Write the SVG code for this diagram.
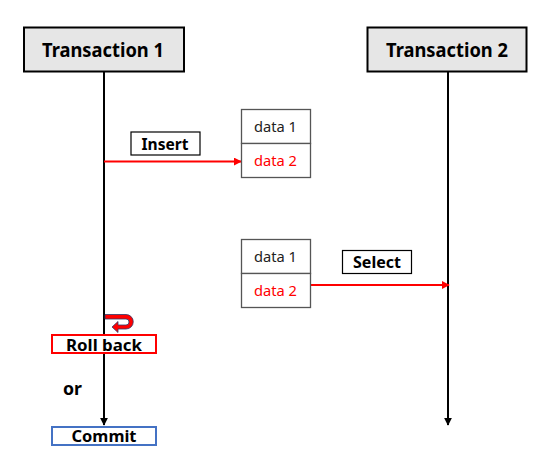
<svg xmlns="http://www.w3.org/2000/svg" width="544" height="476" viewBox="0 0 544 476">
<style>
.t{font-family:"Noto Sans","Open Sans","Liberation Sans",sans-serif}
.hdr{fill:#e6e6e6;stroke:#000;stroke-width:2}
.hdrt{font-size:19.5px;font-weight:bold;fill:#000}
.cell{fill:#fff;stroke:#555;stroke-width:1.3}
.dt{font-size:14px;fill:#222}
.dr{font-size:14px;fill:#ff0000}
.lbl{fill:#fff;stroke:#000;stroke-width:1.2}
.lt{font-size:16.5px;font-weight:bold;fill:#000}
.life{stroke:#000;stroke-width:2;fill:none}
.msg{stroke:#ff0000;stroke-width:2;fill:none}
</style>
<defs>
<marker id="ab" viewBox="0 0 10 10" refX="9" refY="5" markerWidth="4" markerHeight="4" orient="auto" markerUnits="strokeWidth"><path d="M0,0 L10,5 L0,10 Z" fill="#000"/></marker>
<marker id="ar" viewBox="0 0 10 10" refX="9" refY="5" markerWidth="4" markerHeight="4" orient="auto" markerUnits="strokeWidth"><path d="M0,0 L10,5 L0,10 Z" fill="#ff0000"/></marker>
</defs>
<rect width="544" height="476" fill="#fff"/>
<g id="connectors">
<line class="life" x1="104" y1="72" x2="104" y2="425" marker-end="url(#ab)"/>
<line class="life" x1="448" y1="72" x2="448" y2="425" marker-end="url(#ab)"/>
<line class="msg" x1="104" y1="161.5" x2="241" y2="161.5" marker-end="url(#ar)"/>
<line class="msg" x1="310" y1="285" x2="449" y2="285" marker-end="url(#ar)"/>
</g>
<g id="tx1">
<rect class="hdr" x="24" y="27.5" width="160" height="44"/>
<text class="t hdrt" x="103" y="57" text-anchor="middle" textLength="122" lengthAdjust="spacingAndGlyphs">Transaction 1</text>
</g>
<g id="tx2">
<rect class="hdr" x="367.5" y="27.5" width="159" height="44"/>
<text class="t hdrt" x="447" y="57" text-anchor="middle" textLength="122" lengthAdjust="spacingAndGlyphs">Transaction 2</text>
</g>
<g id="data-a">
<rect class="cell" x="241.5" y="109.5" width="69" height="34"/>
<rect class="cell" x="241.5" y="143.5" width="69" height="34"/>
<text class="t dt" x="275.5" y="131.5" text-anchor="middle" textLength="43" lengthAdjust="spacingAndGlyphs">data 1</text>
<text class="t dr" x="275.5" y="165.5" text-anchor="middle" textLength="43" lengthAdjust="spacingAndGlyphs">data 2</text>
</g>
<g id="data-b">
<rect class="cell" x="241.5" y="239.5" width="69" height="34"/>
<rect class="cell" x="241.5" y="273.5" width="69" height="34"/>
<text class="t dt" x="275.5" y="261.5" text-anchor="middle" textLength="43" lengthAdjust="spacingAndGlyphs">data 1</text>
<text class="t dr" x="275.5" y="295.5" text-anchor="middle" textLength="43" lengthAdjust="spacingAndGlyphs">data 2</text>
</g>
<g id="insert">
<rect class="lbl" x="131" y="132" width="69" height="23"/>
<text class="t lt" x="165" y="149.5" text-anchor="middle" textLength="47" lengthAdjust="spacingAndGlyphs">Insert</text>
</g>
<g id="select">
<rect class="lbl" x="342.5" y="250.5" width="69" height="23"/>
<text class="t lt" x="377" y="268" text-anchor="middle" textLength="48" lengthAdjust="spacingAndGlyphs">Select</text>
</g>
<g id="rollback">
<path d="M105,314.5 H126 A7.25,7.25 0 0 1 126,329 H118 V332.5 L112,327 L118,321.5 V325 H126 A3,3 0 0 0 126,319 H105 Z" fill="#ff0000" stroke="#2f3a6b" stroke-width="0.8"/>
<rect x="52" y="335" width="104" height="18" fill="#fff" stroke="#ff0000" stroke-width="2"/>
<text class="t lt" x="104" y="350.5" text-anchor="middle" textLength="76" lengthAdjust="spacingAndGlyphs">Roll back</text>
</g>
<g id="or">
<text class="t" x="63" y="395" font-size="18.5" font-weight="bold" textLength="19" lengthAdjust="spacingAndGlyphs">or</text>
</g>
<g id="commit">
<rect x="52" y="427" width="104" height="18" fill="#fff" stroke="#4472c4" stroke-width="2"/>
<text class="t lt" x="104" y="442" text-anchor="middle" textLength="65" lengthAdjust="spacingAndGlyphs">Commit</text>
</g>
</svg>
